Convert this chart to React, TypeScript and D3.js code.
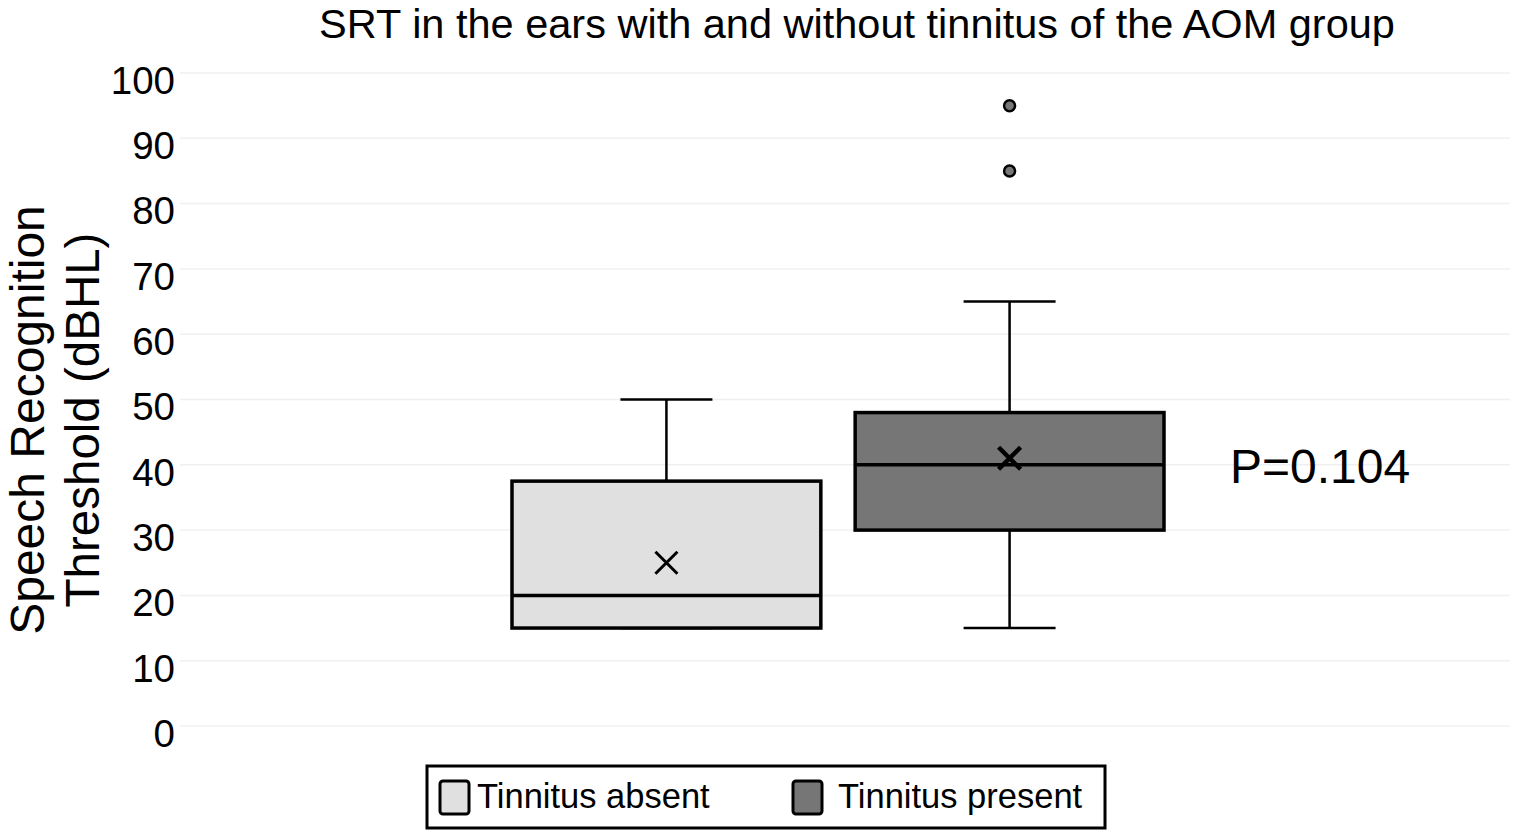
import React from "react";
import * as d3 from "d3";

const title = "SRT in the ears with and without tinnitus of the AOM group";
const yLabelLines = ["Speech Recognition", "Threshold (dBHL)"];
const yTicks = [0, 10, 20, 30, 40, 50, 60, 70, 80, 90, 100];
const groups = ["Tinnitus absent", "Tinnitus present"];
const fills = ["#e0e0e0", "#767676"];
const whiskerLow = [15, 15];
const q1 = [15, 30];
const median = [20, 40];
const q3 = [37.5, 48];
const whiskerHigh = [50, 65];
const means = [25, 41];
const outliers = [[], [85, 95]];
const pText = "P=0.104";

const W = 1532;
const H = 831;
const FONT = "'Liberation Sans', Arial, Helvetica, sans-serif";

export default function App() {
  const y = d3.scaleLinear().domain([0, 100]).range([726, 73]);
  const plotLeft = 180;
  const plotRight = 1510;
  const x = d3.scaleBand().domain(groups).range([512, 1164]).paddingInner(0.1).paddingOuter(0);
  const bw = x.bandwidth();
  const capW = 92;
  const m = 11;

  return (
    <svg width={W} height={H} style={{ position: "absolute", left: 0, top: 0, background: "#fff" }} fontFamily={FONT}>
      <text x={857} y={38} fontSize={41.5} textAnchor="middle" fill="#000">{title}</text>
      {yTicks.map((t) => (
        <g key={t}>
          <line x1={plotLeft} x2={plotRight} y1={y(t)} y2={y(t)} stroke="#f0f0f0" strokeWidth={1.5} />
          <text x={175} y={y(t) + 7} dy="0.36em" fontSize={38.5} textAnchor="end" fill="#000">{t}</text>
        </g>
      ))}
      {yLabelLines.map((l, i) => (
        <text key={i} transform={`translate(${44 + i * 55},420) rotate(-90)`} fontSize={[48, 47.5][i]} textAnchor="middle" fill="#000">{l}</text>
      ))}
      {groups.map((g, i) => {
        const x0 = x(g) as number;
        const cx = x0 + bw / 2;
        return (
          <g key={g}>
            <line x1={cx} x2={cx} y1={y(whiskerHigh[i])} y2={y(q3[i])} stroke="#000" strokeWidth={2.5} />
            <line x1={cx} x2={cx} y1={y(q1[i])} y2={y(whiskerLow[i])} stroke="#000" strokeWidth={2.5} />
            <line x1={cx - capW / 2} x2={cx + capW / 2} y1={y(whiskerHigh[i])} y2={y(whiskerHigh[i])} stroke="#000" strokeWidth={2.5} />
            <line x1={cx - capW / 2} x2={cx + capW / 2} y1={y(whiskerLow[i])} y2={y(whiskerLow[i])} stroke="#000" strokeWidth={2.5} />
            <rect x={x0} y={y(q3[i])} width={bw} height={y(q1[i]) - y(q3[i])} fill={fills[i]} stroke="#000" strokeWidth={3.5} />
            <line x1={x0} x2={x0 + bw} y1={y(median[i])} y2={y(median[i])} stroke="#000" strokeWidth={3.5} />
            <path d={`M${cx - m},${y(means[i]) - m}L${cx + m},${y(means[i]) + m}M${cx - m},${y(means[i]) + m}L${cx + m},${y(means[i]) - m}`} stroke="#000" strokeWidth={i === 0 ? 3 : 4.5} />
            {outliers[i].map((o, j) => (
              <circle key={j} cx={cx} cy={y(o)} r={5.5} fill="#777" stroke="#000" strokeWidth={2.5} />
            ))}
          </g>
        );
      })}
      <text x={1230} y={483} fontSize={48} fill="#000">{pText}</text>
      <rect x={427} y={766} width={678} height={62} fill="#fff" stroke="#000" strokeWidth={3} />
      {groups.map((g, i) => {
        const sx = [440, 793][i];
        return (
          <g key={g}>
            <rect x={sx} y={781} width={29} height={33} rx={3} fill={fills[i]} stroke="#000" strokeWidth={3} />
            <text x={[477, 838][i]} y={808} fontSize={34.5} fill="#000">{g}</text>
          </g>
        );
      })}
    </svg>
  );
}
